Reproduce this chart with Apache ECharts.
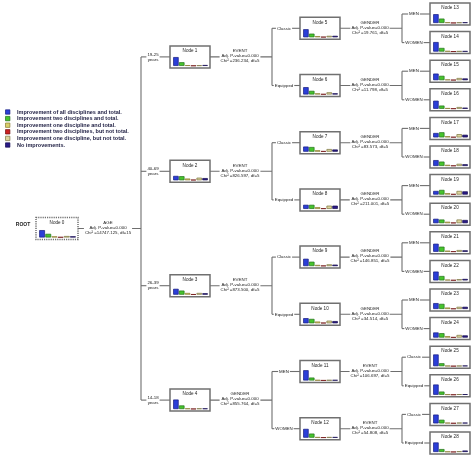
<!DOCTYPE html>
<html>
<head>
<meta charset="utf-8">
<style>
  html, body { margin: 0; padding: 0; background: #fff; }
  #chart { width: 474px; height: 457px; }
</style>
<script src="https://cdn.jsdelivr.net/npm/echarts@6/dist/echarts.min.js"></script>
</head>
<body>
<div id="chart"></div>
<script>
// 图例 / 类别
const categories = ['all', 'two+total', 'one+total', 'two', 'one', 'none']
const legendLabels = [
    'Improvement of all disciplines and total.',
    'Improvement two disciplines and total.',
    'Improvement one discipline and total.',
    'Improvement two disciplines, but not total.',
    'Improvement one discipline, but not total.',
    'No improvements.'
]
const barFills = ['#2b3ed8', '#46c42c', '#d8cf6a', '#cc2020', '#dcd49c', '#2a1a86']
const barBorders = ['#141a80', '#22701a', '#8a7a30', '#701010', '#7a7440', '#140a50']

// 树结构
const nodeParent = [-1, 0, 0, 0, 0, 1, 1, 2, 2, 3, 3, 4, 4, 5, 5, 6, 6, 7, 7, 8, 8, 9, 9, 10, 10, 11, 11, 12, 12]
const edgeLabels = ['', '19-25\nyears', '40-69\nyears', '26-39\nyears', '14-18\nyears',
    'Classic', 'Equipped', 'Classic', 'Equipped', 'Classic', 'Equipped', 'MEN', 'WOMEN',
    'MEN', 'WOMEN', 'MEN', 'WOMEN', 'MEN', 'WOMEN', 'MEN', 'WOMEN', 'MEN', 'WOMEN', 'MEN', 'WOMEN',
    'Classic', 'Equipped', 'Classic', 'Equipped']
const splitVariable = ['AGE', 'EVENT', 'EVENT', 'EVENT', 'GENDER', 'GENDER', 'GENDER', 'GENDER',
    'GENDER', 'GENDER', 'GENDER', 'EVENT', 'EVENT']
const chiSquare = ['14747.125', '236.234', '826.597', '873.500', '855.764', '19.761', '11.798',
    '83.573', '211.001', '146.851', '34.514', '106.697', '54.808']
const degrees = [15, 5, 5, 5, 5, 5, 5, 5, 5, 5, 5, 5, 5]

// 每个节点的柱子 (%)
const nodeValues = [
    [50, 25, 8, 3, 10, 8],
    [60, 25, 5, 2, 4, 6],
    [30, 28, 12, 4, 18, 15],
    [40, 28, 12, 3, 12, 10],
    [65, 25, 5, 2, 5, 5],
    [55, 25, 8, 3, 10, 10],
    [50, 25, 8, 3, 15, 8],
    [35, 32, 10, 4, 18, 15],
    [28, 28, 12, 4, 22, 22],
    [50, 30, 8, 3, 12, 10],
    [35, 30, 12, 4, 18, 15],
    [70, 20, 3, 1, 3, 3],
    [60, 28, 4, 2, 4, 4],
    [60, 30, 5, 1, 4, 5],
    [65, 25, 4, 1, 3, 3],
    [45, 30, 5, 2, 15, 12],
    [55, 22, 5, 2, 12, 8],
    [30, 35, 8, 3, 22, 18],
    [40, 30, 8, 3, 15, 12],
    [25, 32, 10, 4, 25, 22],
    [30, 25, 10, 4, 25, 22],
    [55, 35, 8, 3, 12, 10],
    [60, 30, 5, 2, 8, 10],
    [40, 35, 10, 3, 15, 15],
    [35, 30, 10, 3, 18, 15],
    [80, 20, 3, 1, 3, 4],
    [70, 22, 3, 1, 4, 4],
    [60, 25, 5, 2, 5, 5],
    [65, 20, 3, 1, 5, 10]
]

const chart = echarts.init(document.getElementById('chart'))

const colX = [36, 170, 300, 430]
const boxW = [42, 40, 40, 40]
const boxH = 22
const trunkX = [141, 272, 402]
const edgeLabelX = [0, 153, 284, 414]
const splitTextX = [108, 240, 370]
const font = '"Liberation Sans", Arial, sans-serif'
const lineColor = '#6e6e6e'

// 布局
const n = nodeParent.length
const children = nodeParent.map(() => [])
const depth = new Array(n).fill(0)
for (let i = 1; i < n; i++) {
    children[nodeParent[i]].push(i)
    depth[i] = depth[nodeParent[i]] + 1
}
const centerY = new Array(n).fill(0)
let leafCount = 0
function place(i) {
    if (!children[i].length) {
        centerY[i] = 14 + leafCount * 28.6
        leafCount++
        return
    }
    children[i].forEach(place)
    const ys = children[i].map(c => centerY[c])
    centerY[i] = ys.reduce((a, b) => a + b, 0) / ys.length
}
place(0)

const grids = [], xAxes = [], yAxes = [], series = [], graphics = []

for (let i = 0; i < n; i++) {
    const d = depth[i]
    const x0 = colX[d], w = boxW[d]
    const y0 = centerY[i] - boxH / 2

    // 节点框
    graphics.push({
        type: 'rect', z: 1,
        shape: { x: x0, y: y0, width: w, height: boxH },
        style: { fill: '#fff', stroke: '#707070', lineWidth: 1.5, lineDash: i === 0 ? [1.2, 1] : null }
    })
    graphics.push({
        type: 'text', z: 5, x: x0 + w / 2, y: y0 + 2.5,
        style: { text: 'Node ' + i, font: '4.6px ' + font, fill: '#222', align: 'center', verticalAlign: 'top' }
    })

    grids.push({ left: x0 + 3, top: y0 + 7.5, width: w - 5, height: boxH - 9.5 })
    xAxes.push({
        type: 'category', gridIndex: i, data: categories,
        axisLine: { lineStyle: { color: '#8c8c8c', width: 1.5 } },
        axisTick: { show: false }, axisLabel: { show: false }
    })
    yAxes.push({
        type: 'value', gridIndex: i, min: 0, max: 85,
        axisLine: { show: true, lineStyle: { color: '#8c8c8c', width: 1.5 } },
        axisTick: { show: false }, axisLabel: { show: false }, splitLine: { show: false }
    })
    series.push({
        type: 'bar', xAxisIndex: i, yAxisIndex: i, barCategoryGap: '6%', z: 3,
        silent: true,
        data: nodeValues[i].map((v, k) => ({
            value: v,
            itemStyle: { color: barFills[k], borderColor: barBorders[k], borderWidth: 0.7 }
        }))
    })

    // 分裂
    if (children[i].length) {
        const cy = centerY[i]
        const tx = trunkX[d]
        graphics.push({
            type: 'line', z: 0,
            shape: { x1: x0 + w, y1: cy, x2: tx, y2: cy },
            style: { stroke: lineColor, lineWidth: 1.1 }
        })
        graphics.push({
            type: 'text', z: 5, x: splitTextX[d], y: cy - 1,
            style: {
                text: splitVariable[i] + '\nAdj. P-value=0.000\nChi² =' + chiSquare[i] + ', df=' + degrees[i],
                font: '4.4px ' + font, fill: '#222', align: 'center', verticalAlign: 'middle',
                lineHeight: 5, backgroundColor: '#fff', padding: [0, 1]
            }
        })
        const ys = children[i].map(c => centerY[c])
        graphics.push({
            type: 'line', z: 0,
            shape: { x1: tx, y1: Math.min(...ys), x2: tx, y2: Math.max(...ys) },
            style: { stroke: lineColor, lineWidth: 1.1 }
        })
        children[i].forEach(c => {
            graphics.push({
                type: 'line', z: 0,
                shape: { x1: tx, y1: centerY[c], x2: colX[depth[c]], y2: centerY[c] },
                style: { stroke: lineColor, lineWidth: 1.1 }
            })
            graphics.push({
                type: 'text', z: 5, x: edgeLabelX[depth[c]], y: centerY[c],
                style: {
                    text: edgeLabels[c], font: '4.4px ' + font, fill: '#222',
                    align: 'center', verticalAlign: 'middle', lineHeight: 5,
                    backgroundColor: '#fff', padding: [0, 1]
                }
            })
        })
    }
}

graphics.push({
    type: 'text', z: 5, x: 23, y: centerY[0] - 4,
    style: { text: 'ROOT', font: 'bold 5px ' + font, fill: '#222', align: 'center', verticalAlign: 'middle' }
})

// 图例
legendLabels.forEach((label, k) => {
    const y = 112 + k * 6.6
    graphics.push({
        type: 'rect', z: 5,
        shape: { x: 5.5, y: y - 2.2, width: 4.4, height: 4.4 },
        style: { fill: barFills[k], stroke: barBorders[k], lineWidth: 0.7 }
    })
    graphics.push({
        type: 'text', z: 5, x: 17, y: y,
        style: { text: label, font: 'bold 5.5px ' + font, fill: '#1c1c40', verticalAlign: 'middle' }
    })
})

const option = {
    animation: false,
    grid: grids,
    xAxis: xAxes,
    yAxis: yAxes,
    series: series,
    graphic: graphics
}
chart.setOption(option)
window.addEventListener('resize', () => {
    chart.resize()
})
</script>
</body>
</html>
